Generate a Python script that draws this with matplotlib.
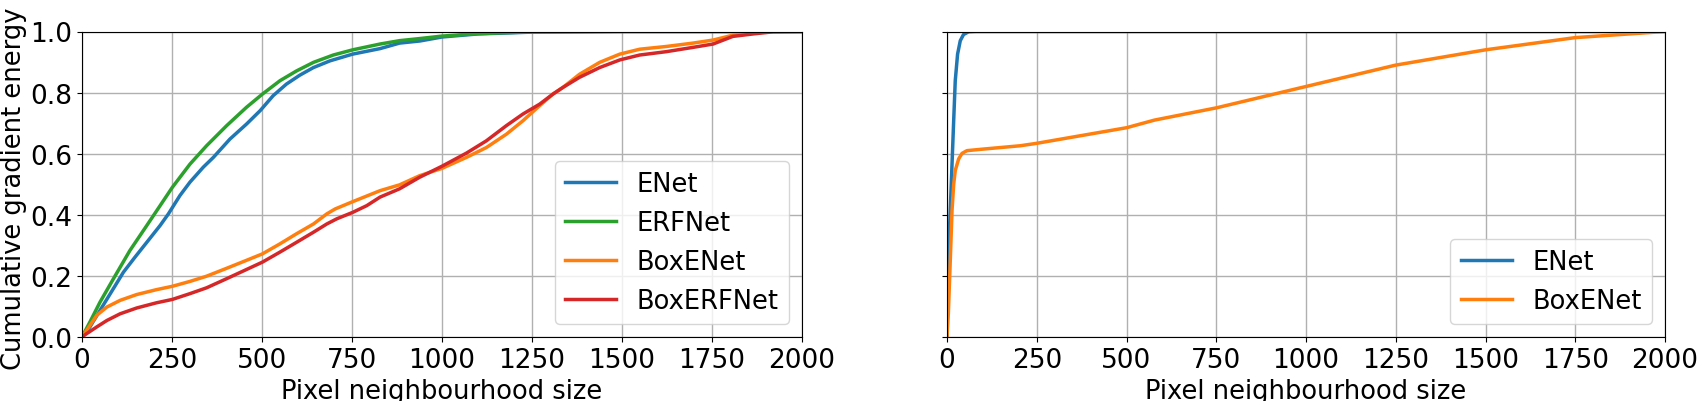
import matplotlib
matplotlib.use("Agg")
import matplotlib.pyplot as plt

# ---- Left panel data (pixel neighbourhood size vs cumulative gradient energy)
enet_x = [0, 22, 50, 87, 115, 147, 180, 217, 240, 272, 300, 337, 365, 411, 457, 495, 531, 568,
          605, 643, 689, 752, 828, 882, 939, 1000, 1100, 1250, 1500, 2000]
enet_y = [0, 0.033, 0.087, 0.158, 0.212, 0.261, 0.31, 0.365, 0.403, 0.463, 0.507, 0.556, 0.588,
          0.648, 0.697, 0.741, 0.79, 0.828, 0.857, 0.882, 0.904, 0.926, 0.944, 0.962, 0.969,
          0.982, 0.992, 0.998, 1.0, 1.0]

erfnet_x = [0, 22, 50, 87, 133, 180, 217, 251, 300, 346, 402, 457, 501, 550, 596, 643, 698,
            752, 828, 882, 939, 1000, 1100, 1250, 1500, 2000]
erfnet_y = [0, 0.049, 0.114, 0.19, 0.283, 0.365, 0.43, 0.49, 0.566, 0.626, 0.692, 0.752, 0.795,
            0.839, 0.871, 0.899, 0.923, 0.94, 0.959, 0.97, 0.977, 0.985, 0.993, 0.999, 1.0, 1.0]

boxenet_x = [0, 13, 41, 69, 106, 152, 207, 251, 300, 346, 402, 457, 501, 550, 596, 643, 680,
             703, 752, 828, 882, 938, 1000, 1068, 1123, 1179, 1225, 1271, 1308, 1336, 1382,
             1438, 1494, 1549, 1623, 1697, 1753, 1808, 1901, 2000]
boxenet_y = [0, 0.022, 0.071, 0.098, 0.12, 0.139, 0.155, 0.166, 0.182, 0.199, 0.225, 0.251,
             0.272, 0.305, 0.338, 0.37, 0.403, 0.419, 0.443, 0.479, 0.498, 0.528, 0.552, 0.588,
             0.62, 0.664, 0.708, 0.757, 0.795, 0.817, 0.86, 0.899, 0.926, 0.942, 0.951, 0.962,
             0.972, 0.988, 0.999, 1.0]

boxerfnet_x = [0, 13, 41, 69, 106, 152, 207, 251, 300, 346, 402, 457, 501, 550, 596, 643, 680,
               708, 752, 791, 828, 882, 938, 1000, 1068, 1123, 1179, 1225, 1271, 1308, 1336,
               1382, 1438, 1494, 1549, 1623, 1697, 1753, 1808, 1864, 1920, 2000]
boxerfnet_y = [0, 0.011, 0.033, 0.054, 0.076, 0.095, 0.112, 0.123, 0.142, 0.161, 0.191, 0.221,
               0.245, 0.278, 0.31, 0.343, 0.37, 0.387, 0.408, 0.43, 0.458, 0.485, 0.523, 0.559,
               0.602, 0.642, 0.692, 0.73, 0.762, 0.795, 0.817, 0.85, 0.882, 0.907, 0.923, 0.934,
               0.948, 0.959, 0.984, 0.992, 0.999, 1.0]

# ---- Right panel data
enet2_x = [0, 3.7, 9.4, 14, 18.6, 23, 29.5, 37, 46, 60, 80, 2000]
enet2_y = [0, 0.26, 0.425, 0.566, 0.708, 0.839, 0.926, 0.97, 0.99, 0.999, 1.0, 1.0]

boxenet2_x = [0, 3.7, 9.4, 14, 18.6, 23, 32.5, 41.8, 55.7, 100, 204, 250, 500, 578, 750,
              1000, 1250, 1500, 1750, 2000]
boxenet2_y = [0, 0.076, 0.26, 0.414, 0.50, 0.545, 0.583, 0.601, 0.61, 0.615, 0.626, 0.634,
              0.685, 0.71, 0.75, 0.82, 0.89, 0.94, 0.98, 1.0]

xticks = [0, 250, 500, 750, 1000, 1250, 1500, 1750, 2000]
yticks = [0.0, 0.2, 0.4, 0.6, 0.8, 1.0]

plt.rcParams['font.family'] = ['DejaVu Sans']
FS = 18.5
plt.rcParams['font.size'] = FS

fig = plt.figure(figsize=(17.02, 4.02), dpi=100)
ax1 = fig.add_axes([82/1702, 1-338/402, 720/1702, 305.5/402])
ax2 = fig.add_axes([947/1702, 1-338/402, 718/1702, 305.5/402], sharey=ax1)

lw = 2.5
ax1.plot(enet_x, enet_y, color='#1f77b4', lw=lw, label='ENet')
ax1.plot(erfnet_x, erfnet_y, color='#2ca02c', lw=lw, label='ERFNet')
ax1.plot(boxenet_x, boxenet_y, color='#ff7f0e', lw=lw, label='BoxENet')
ax1.plot(boxerfnet_x, boxerfnet_y, color='#d62728', lw=lw, label='BoxERFNet')

ax2.plot(enet2_x, enet2_y, color='#1f77b4', lw=lw, label='ENet')
ax2.plot(boxenet2_x, boxenet2_y, color='#ff7f0e', lw=lw, label='BoxENet')

for ax in (ax1, ax2):
    ax.set_xlim(0, 2000)
    ax.set_ylim(0, 1.0)
    ax.set_xticks(xticks)
    ax.set_yticks(yticks)
    ax.grid(True, color='#b0b0b0', lw=1)
    ax.set_axisbelow(True)
    ax.set_xlabel('Pixel neighbourhood size', fontsize=FS)
    ax.legend(loc='lower right', fontsize=FS)
    ax.tick_params(labelsize=19)

ax1.set_ylabel('Cumulative gradient energy', fontsize=FS)
ax1.yaxis.set_label_coords(-0.077, 0.49)
plt.setp(ax2.get_yticklabels(), visible=False)

fig.savefig('out.png', dpi=100)
